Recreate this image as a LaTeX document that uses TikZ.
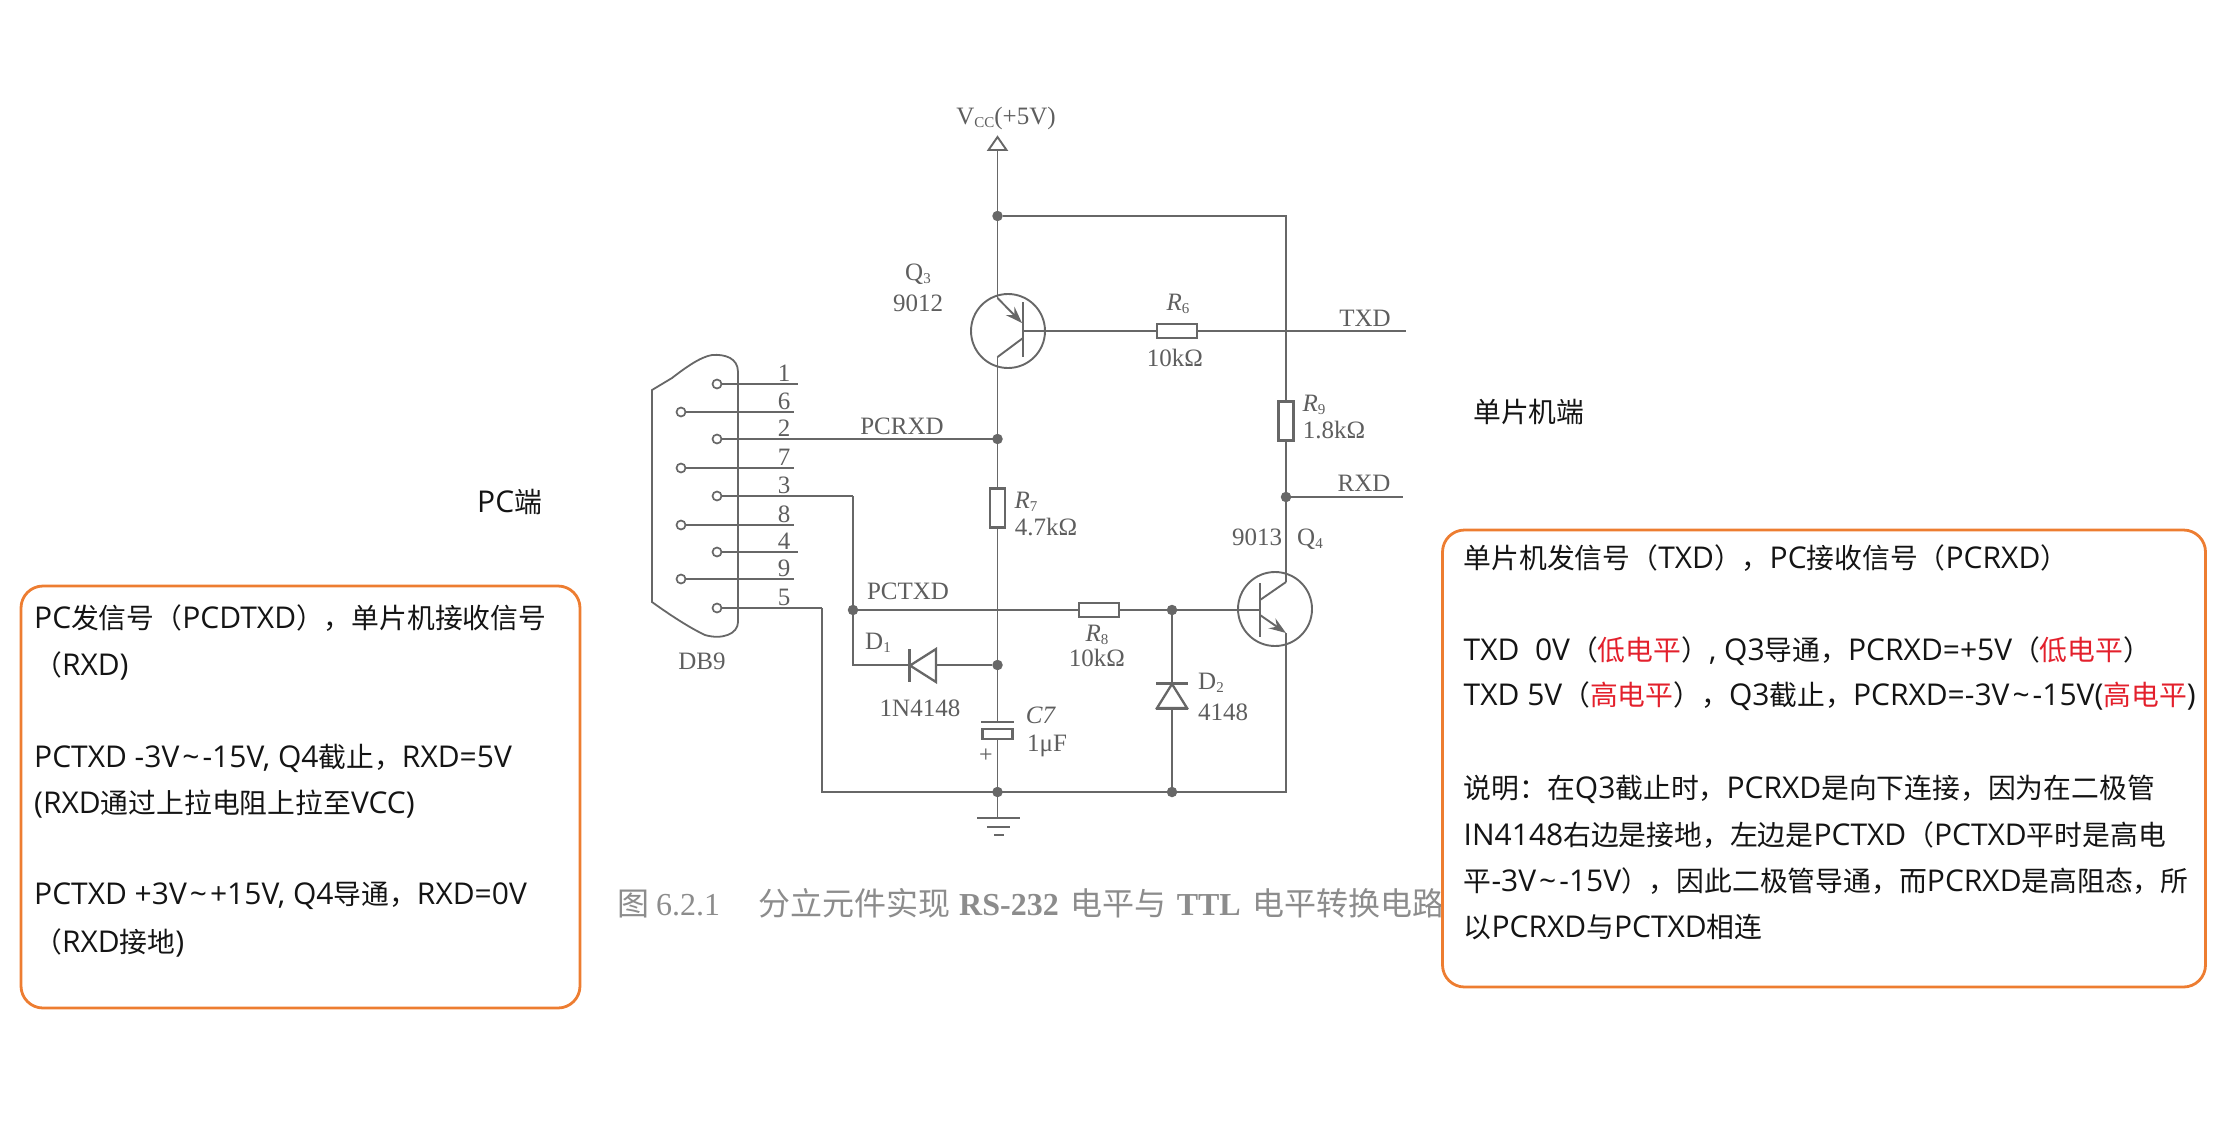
\documentclass[tikz,border=0pt]{standalone}
\usepackage{fontspec}
\usetikzlibrary{arrows.meta}
\setmainfont{Liberation Serif}
\newfontfamily\cjk{Noto Sans CJK SC}
\newfontfamily\latn{Open Sans}
\definecolor{scan}{HTML}{676767}
\definecolor{scantext}{HTML}{5E5E5E}
\definecolor{capt}{HTML}{8C8C8C}
\definecolor{boxline}{HTML}{ED7D31}
\definecolor{redtxt}{HTML}{E3202C}
\newcommand{\lowsub}[1]{\raisebox{-.3ex}{\fontsize{15}{15}\selectfont #1}}
\newcommand{\rd}[1]{\textcolor{redtxt}{#1}}
\newcommand{\lt}[1]{{\latn\fontsize{30}{30}\selectfont #1}}
\newcommand{\tl}{\hspace{3pt}\string~\hspace{3pt}}
\tikzset{
  x=1pt,y=-1pt,
  wire/.style={draw=scan,line width=1.9pt,line join=miter},
  dotj/.style={circle,fill=scan,draw=none,minimum size=10.5pt,inner sep=0pt},
  pinhole/.style={circle,draw=scan,line width=1.7pt,fill=white,minimum size=9pt,inner sep=0pt},
  res/.style={rectangle,draw=scan,line width=2.4pt,fill=white,inner sep=0pt},
  bjt/.style={circle,draw=scan,line width=1.9pt,minimum size=74pt,inner sep=0pt},
  lab/.style={text=scantext,font=\fontsize{25}{25}\selectfont,inner sep=0pt},
  note/.style={text=black!92,font=\cjk\fontsize{27.8}{27.8}\selectfont,inner sep=0pt,anchor=west},
  notebox/.style={draw=boxline,line width=2.8pt,rounded corners=22pt},
}
\begin{document}
\begin{tikzpicture}
\useasboundingbox (0,0) rectangle (2224,1120);
% key points
\coordinate (vcc) at (997.5,150);
\coordinate (topj) at (997.5,216);
\coordinate (tr) at (1286,216);
\coordinate (q3e) at (997.5,298);
\coordinate (q3ee) at (1022,323);
\coordinate (q3c) at (997.5,357);
\coordinate (q3cc) at (1023,338);
\coordinate (q3b) at (1023,331);
\coordinate (q3bt) at (1023,302);
\coordinate (q3bb) at (1023,357);
\coordinate (txdend) at (1406,331);
\coordinate (rxdend) at (1403,497);
\coordinate (q4c) at (1286,582);
\coordinate (q4cc) at (1260,600);
\coordinate (q4e) at (1286,633);
\coordinate (q4ee) at (1260,615);
\coordinate (q4b) at (1260,610);
\coordinate (q4bt) at (1260,583);
\coordinate (q4bb) at (1260,637);
\coordinate (br) at (1286,792);
\coordinate (bl) at (822,792);
\coordinate (p5c) at (822,608);
\coordinate (p3c) at (853,496);
\coordinate (d1c) at (853,665);
\coordinate (gnd) at (997.5,818);
\coordinate (c7t) at (997.5,722);
% components
\node[bjt] (q3) at (1008,331) {};
\node[bjt] (q4) at (1275,609) {};
\node[res,minimum width=40pt,minimum height=14pt] (r6) at (1177,331) {};
\node[res,minimum width=15pt,minimum height=39pt] (r9) at (1286,421) {};
\node[res,minimum width=15pt,minimum height=39pt] (r7) at (997.5,508) {};
\node[res,minimum width=40pt,minimum height=14pt] (r8) at (1099,610) {};
\node[dotj] (j1) at (topj) {};
\node[dotj] (j2) at (997.5,439) {};
\node[dotj] (j3) at (1286,497) {};
\node[dotj] (j4) at (853,610) {};
\node[dotj] (j5) at (1172,610) {};
\node[dotj] (j6) at (997.5,665) {};
\node[dotj] (j7) at (997.5,792) {};
\node[dotj] (j8) at (1172,792) {};
\node[res,minimum width=30pt,minimum height=10pt] (c7) at (997.5,734) {};
% wires
\draw[wire] (vcc) -- (topj);
\draw[wire] (topj) -- (q3e);
\draw[wire] (j1) -- (tr) -- (r9);
\draw[wire] (q3c) -- (j2);
\draw[wire] (j2) -- (r7);
\draw[wire] (r7) -- (j6);
\draw[wire] (j6) -- (c7t);
\draw[wire] (c7) -- (j7);
\draw[wire] (j7) -- (gnd);
\draw[wire] (q3b) -- (r6);
\draw[wire] (r6) -- (txdend);
\draw[wire] (r9) -- (j3);
\draw[wire] (j3) -- (q4c);
\draw[wire] (j3) -- (rxdend);
\draw[wire] (j4) -- (r8);
\draw[wire] (r8) -- (j5);
\draw[wire] (j5) -- (q4b);
\draw[wire] (j5) -- (j8);
\draw[wire] (p3c) -- (j4);
\draw[wire] (j4) -- (d1c) -- (j6);
\draw[wire] (p5c) -- (bl) -- (br) -- (q4e);
% transistor internals
\draw[wire,line width=2.3pt] (q3bt) -- (q3bb);
\draw[wire,-{Stealth[length=17pt,width=12pt,inset=6pt]}] (q3e) -- (q3ee);
\draw[wire] (q3cc) -- (q3c);
\draw[wire,line width=2.3pt] (q4bt) -- (q4bb);
\draw[wire] (q4cc) -- (q4c);
\draw[wire,-{Stealth[length=17pt,width=12pt,inset=6pt]}] (q4ee) -- (q4e);
% VCC triangle
\draw[draw=scan,line width=1.9pt,fill=white,line join=miter] (997.5,137) -- (1006.5,150) -- (988.5,150) -- cycle;
% diodes
\draw[draw=scan,line width=2.3pt,fill=white,line join=miter] (936,649) -- (936,682) -- (910,665.5) -- cycle;
\draw[draw=scan,line width=3pt] (909,649) -- (909,682);
\draw[draw=scan,line width=2.3pt,fill=white,line join=miter] (1157,708) -- (1187,708) -- (1172,684) -- cycle;
\draw[draw=scan,line width=3pt] (1156,683) -- (1188,683);
\draw[draw=scan,line width=3pt] (1156,708) -- (1188,708);
% C7 plate
\draw[draw=scan,line width=2.4pt] (981,722) -- (1014,722);
\node[text=scantext,font=\fontsize{24}{24}\selectfont,inner sep=0pt] (cplus) at (986,756) {+};
% ground
\draw[draw=scan,line width=2.2pt] (977,818) -- (1020,818);
\draw[draw=scan,line width=2.2pt] (987,827) -- (1010,827);
\draw[draw=scan,line width=2.2pt] (994,835) -- (1004,835);
% DB9 shell
\draw[draw=scan,line width=1.8pt] (738,372) .. controls (738,358) and (725,354) .. (712,355)
  .. controls (700,357) and (685,368) .. (672,378) -- (652,390) -- (652,602)
  .. controls (670,615) and (690,628) .. (705,635) .. controls (722,640) and (738,634) .. (738,622) -- cycle;
% pins
\foreach \n/\hx/\py/\ex in {1/717/384/798,6/681/412/794,2/717/439/997.5,7/681/468/794,3/717/496/853,8/681/525/794,4/717/552/798,9/681/579/794,5/717/608/822}{
  \node[pinhole] (pin\n) at (\hx,\py) {};
  \coordinate (pine\n) at (\ex,\py);
  \draw[wire] (pin\n) -- (pine\n);
  \node[lab,anchor=base] (num\n) at (784,\py-3) {\n};
}
% labels
\node[lab] (lvcc) at (1006,118) {V\lowsub{CC}(+5V)};
\node[lab] (lq3) at (918,274) {Q\lowsub{3}};
\node[lab] (l9012) at (918,303) {9012};
\node[lab] (lr6) at (1178,304) {\textit{R}\lowsub{6}};
\node[lab] (l10k1) at (1175,358) {10kΩ};
\node[lab] (ltxd) at (1365,318) {TXD};
\node[lab] (lr9) at (1314,405) {\textit{R}\lowsub{9}};
\node[lab] (l18k) at (1334,430) {1.8kΩ};
\node[lab] (lrxd) at (1364,483) {RXD};
\node[lab] (l9013) at (1257,537) {9013};
\node[lab] (lq4) at (1310,539) {Q\lowsub{4}};
\node[lab] (lr7) at (1026,502) {\textit{R}\lowsub{7}};
\node[lab] (l47k) at (1046,527) {4.7kΩ};
\node[lab] (lpcrxd) at (902,426) {PCRXD};
\node[lab] (lpctxd) at (908,591) {PCTXD};
\node[lab] (ld1) at (878,643) {D\lowsub{1}};
\node[lab] (l1n) at (920,708) {1N4148};
\node[lab] (lr8) at (1097,635) {\textit{R}\lowsub{8}};
\node[lab] (l10k2) at (1097,658) {10kΩ};
\node[lab] (ld2) at (1211,683) {D\lowsub{2}};
\node[lab] (l4148) at (1223,712) {4148};
\node[lab] (lc7) at (1041,715) {\textit{C7}};
\node[lab] (l1u) at (1047,746) {1μF};
\node[lab] (ldb9) at (702,661) {DB9};
% caption
\node[text=capt,inner sep=0pt,anchor=west,font=\fontsize{32}{32}\selectfont] (capt) at (617,903)
 {{\cjk 图}\hspace{7pt}6.2.1\hspace{38pt}{\cjk 分立元件实现}\hspace{9pt}\textbf{RS-232}\hspace{12pt}{\cjk 电平与}\hspace{10pt}\textbf{TTL}\hspace{12pt}{\cjk 电平转换电路}};
% note titles
\node[note] (pcend) at (477,502) {\lt{PC}端};
\node[note] (mcuend) at (1473,412) {单片机端};
% left box
\draw[notebox] (21,586) rectangle (580,1008);
\node[note] (a1) at (34,618) {\lt{PC}发信号（\lt{PCDTXD}），单片机接收信号};
\node[note] (a2) at (34,665.5) {（\lt{RXD)}};
\node[note] (a3) at (34,758) {\lt{PCTXD -3V\tl-15V, Q4}截止，\lt{RXD=5V}};
\node[note] (a4) at (34,804) {\lt{(RXD}通过上拉电阻上拉至\lt{VCC)}};
\node[note] (a5) at (34,896) {\lt{PCTXD +3V\tl+15V, Q4}导通，\lt{RXD=0V}};
\node[note] (a6) at (34,943) {（\lt{RXD}接地\lt{)}};
% right box
\draw[notebox] (1442.5,530) rectangle (2205.5,987);
\node[note] (b1) at (1463.5,558) {单片机发信号（\lt{TXD}），\lt{PC}接收信号（\lt{PCRXD}）};
\node[note] (b2) at (1463.5,651) {\lt{TXD\ \ 0V}（\rd{低电平}）\lt{, Q3}导通，\lt{PCRXD=+5V}（\rd{低电平}）};
\node[note] (b3) at (1463.5,696.5) {\lt{TXD 5V}（\rd{高电平}），\lt{Q3}截止，\lt{PCRXD=-3V\tl-15V(}\rd{高电平}\lt{)}};
\node[note] (b4) at (1463.5,789.5) {说明：在\lt{Q3}截止时，\lt{PCRXD}是向下连接，因为在二极管};
\node[note] (b5) at (1463.5,835.5) {\lt{IN4148}右边是接地，左边是\lt{PCTXD}（\lt{PCTXD}平时是高电};
\node[note] (b6) at (1463.5,881.5) {平\lt{-3V\tl-15V}），因此二极管导通，而\lt{PCRXD}是高阻态，所};
\node[note] (b7) at (1463.5,927.5) {以\lt{PCRXD}与\lt{PCTXD}相连};
\end{tikzpicture}
\end{document}
